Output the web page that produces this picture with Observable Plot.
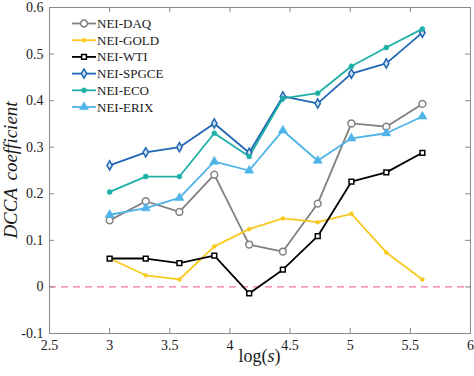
<!DOCTYPE html>
<html><head><meta charset="utf-8">
<script src="https://cdn.jsdelivr.net/npm/d3@7"></script>
<script src="https://cdn.jsdelivr.net/npm/@observablehq/plot@0.6"></script>
<style>body{margin:0;background:#fff} svg{overflow:visible}</style>
</head><body><div id="chart"></div>
<script>
const logS = [3.00, 3.30, 3.58, 3.87, 4.16, 4.44, 4.73, 5.01, 5.30, 5.60];
const seriesNames = ["NEI-DAQ", "NEI-GOLD", "NEI-WTI", "NEI-SPGCE", "NEI-ECO", "NEI-ERIX"];
const daq   = [0.143, 0.184, 0.161, 0.241, 0.091, 0.076, 0.179, 0.351, 0.344, 0.393];
const gold  = [0.061, 0.025, 0.016, 0.087, 0.124, 0.147, 0.139, 0.157, 0.074, 0.016];
const wti   = [0.061, 0.061, 0.051, 0.067, -0.014, 0.037, 0.109, 0.226, 0.246, 0.288];
const spgce = [0.261, 0.289, 0.300, 0.351, 0.288, 0.409, 0.394, 0.458, 0.480, 0.546];
const eco   = [0.204, 0.237, 0.237, 0.330, 0.280, 0.405, 0.416, 0.474, 0.514, 0.554];
const erix  = [0.155, 0.169, 0.191, 0.269, 0.250, 0.336, 0.271, 0.319, 0.330, 0.366];
const xTicks = [2.5, 3, 3.5, 4, 4.5, 5, 5.5, 6];
const yTicks = [-0.1, 0, 0.1, 0.2, 0.3, 0.4, 0.5, 0.6];

const values = [daq, gold, wti, spgce, eco, erix];
const colors = ["#808080", "#f8c91f", "#000000", "#1f66b4", "#1eb0a6", "#4eb4e8"];
const styles = [
  {symbol: "circle", r: 3.4, fill: "white", strokeOn: true},
  {symbol: "circle", r: 2, fill: null, strokeOn: false},
  {symbol: "square", r: 2.7, fill: "white", strokeOn: true},
  {symbol: "diamond", r: 2.8, fill: "#cfe0f2", strokeOn: true},
  {symbol: "circle", r: 2.5, fill: null, strokeOn: false},
  {symbol: "triangle", r: 3.4, fill: null, strokeOn: false}
];
const rows = seriesNames.flatMap((s, i) => logS.map((x, j) => ({series: s, x, y: values[i][j]})));

const W = 474, H = 376, mL = 49, mR = 4, mT = 7, mB = 43;
const innerW = W - mL - mR, innerH = H - mT - mB;
const frameColor = "#8a8a8a";
const serif = "Liberation Serif";
const textColor = "#1a1a1a";

const dotMarks = seriesNames.map((s, i) => Plot.dot(rows.filter(d => d.series === s), {
  x: "x", y: "y", symbol: styles[i].symbol, r: styles[i].r,
  fill: styles[i].fill ?? colors[i],
  stroke: colors[i], strokeWidth: styles[i].strokeOn ? 1.5 : 0.5
}));

const chart = Plot.plot({
  width: W, height: H,
  marginLeft: mL, marginRight: mR, marginTop: mT, marginBottom: mB,
  x: {domain: [2.5, 6], label: null},
  y: {domain: [-0.1, 0.6], label: null},
  color: {domain: seriesNames, range: colors},
  marks: [
    Plot.ruleY([0], {stroke: "#f27aa2", strokeDasharray: "7,5", strokeWidth: 1.2}),
    Plot.line(rows, {x: "x", y: "y", z: "series", stroke: "series", strokeWidth: 1.8}),
    ...dotMarks,
    Plot.frame({stroke: frameColor}),
    Plot.tickX(xTicks, {x: d => d, insetTop: innerH - 5, stroke: frameColor}),
    Plot.tickX(xTicks, {x: d => d, insetBottom: innerH - 5, stroke: frameColor}),
    Plot.tickY(yTicks, {y: d => d, insetRight: innerW - 5, stroke: frameColor}),
    Plot.tickY(yTicks, {y: d => d, insetLeft: innerW - 5, stroke: frameColor}),
    Plot.axisX({ticks: xTicks, tickSize: 0, tickPadding: 7, tickFormat: d => String(d), label: null,
      fontSize: 14, fill: textColor}),
    Plot.axisY({ticks: yTicks, tickSize: 0, tickPadding: 6, tickFormat: d => String(d), label: null,
      fontSize: 14, fill: textColor})
  ]
});
document.getElementById("chart").append(chart);

const svg = d3.select(chart);
svg.attr("font-family", serif).style("font-family", serif);
svg.selectAll("text").attr("font-family", serif).style("font-family", serif);
// Legend
const lg = svg.append("g").attr("font-family", serif).attr("font-size", 13).attr("text-anchor", "start");
seriesNames.forEach((s, i) => {
  const yy = 23.5 + i * 16.7;
  lg.append("line").attr("x1", 72).attr("x2", 96).attr("y1", yy).attr("y2", yy)
    .attr("stroke", colors[i]).attr("stroke-width", 1.8);
  const sym = {circle: d3.symbolCircle, square: d3.symbolSquare, diamond: d3.symbolDiamond, triangle: d3.symbolTriangle}[styles[i].symbol];
  lg.append("path").attr("d", d3.symbol(sym, Math.PI * styles[i].r ** 2)())
    .attr("transform", `translate(84,${yy})`)
    .attr("fill", styles[i].fill ?? colors[i]).attr("stroke", colors[i])
    .attr("stroke-width", styles[i].strokeOn ? 1.5 : 0.5);
  lg.append("text").attr("x", 97).attr("y", yy).attr("dy", "0.35em").attr("fill", textColor).text(s);
});
// Axis labels
const xl = svg.append("text").attr("x", mL + innerW / 2).attr("y", 362)
  .attr("text-anchor", "middle").attr("font-family", serif).attr("font-size", 18).attr("fill", textColor);
xl.append("tspan").text("log(");
xl.append("tspan").attr("font-style", "italic").text("s");
xl.append("tspan").text(")");
svg.append("text").attr("transform", `translate(17,${mT + innerH / 2}) rotate(-90)`)
  .attr("text-anchor", "middle").attr("font-family", serif).attr("font-style", "italic")
  .attr("font-size", 19).attr("fill", textColor).attr("word-spacing", 3).text("DCCA coefficient");
</script>
</body></html>
